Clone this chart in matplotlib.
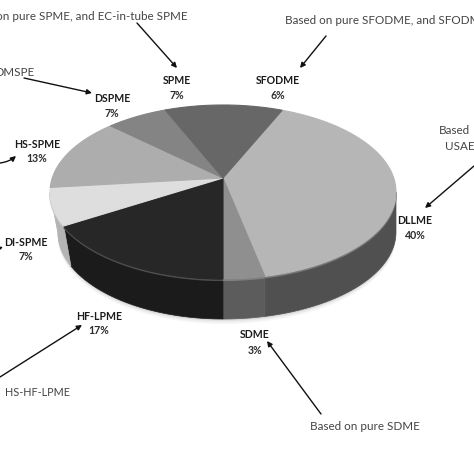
import numpy as np
import matplotlib
matplotlib.use("Agg")
import matplotlib.pyplot as plt
from matplotlib.colors import to_rgb

plt.rcParams['font.family'] = ['Lato', 'DejaVu Sans']

# Slices clockwise from the SFODME/DLLME boundary
categories = ["DLLME", "SDME", "HF-LPME", "DI-SPME", "HS-SPME", "DSPME", "SPME", "SFODME"]
percent_labels = [40, 3, 17, 7, 13, 7, 7, 6]
# apparent slice sizes on the tilted disc, in degrees
apparent_degrees = [146, 14, 67, 26, 46.5, 21, 21.3, 18.2]
top_colors = ["#b6b6b6", "#8f8f8f", "#272727", "#dedede", "#adadad", "#848484", "#676767", "#676767"]
wall_colors = ["#505050", "#5c5c5c", "#1b1b1b", "#b4b4b4", "#777777", "#555555", "#444444", "#444444"]

label_x = [415, 255, 99, 26, 37, 112, 176.5, 278]
label_y = [220, 335, 316, 242, 144, 98, 80, 80]

note_texts = ["Based on pure SPME, and EC-in-tube SPME", "Based on pure SFODME, and SFODME",
              "OMSPE", "Based", "USAE", "HS-HF-LPME", "Based on pure SDME"]
note_x = [188, 285, 35, 439, 445, 5, 310]
note_y = [16, 20, 72, 130, 147, 393, 427]
note_ha = ["right", "left", "right", "left", "left", "left", "left"]
note_size = [8.4, 8.4, 8.4, 8.4, 8.4, 7.8, 8.4]

arrow_tails = [(137, 23), (326, 36), (24, 78), (0, 163), (-6, 250), (0, 377), (321, 414), (474, 166)]
arrow_heads = [(177, 68), (300, 68), (92, 93), (16, 156), (3, 247), (82, 325), (267, 341), (425, 208)]

cx, cy, rx, ry = 223, 192, 173, 87
apex = (223, 178)
depth = 40
start_angle = 70


def rim(a):
    a = np.radians(a)
    return cx + rx * np.cos(a), cy - ry * np.sin(a)


def lower(a, extra=0.0):
    # lower edge of the wall; it tapers in on the left as in the picture
    x, y = rim(a)
    x = np.where(x < cx, cx + (x - cx) * 0.955, x)
    return x, y + depth + extra


fig = plt.figure(figsize=(4.74, 4.74), dpi=100)
ax = fig.add_axes([0, 0, 1, 1])
ax.set_xlim(0, 474)
ax.set_ylim(474, 0)
ax.axis("off")

# soft shadow under the disc
sa = np.linspace(-180, 0, 240)
for grow, alpha in zip([5, 3.5, 2, 1], [0.03, 0.04, 0.05, 0.06]):
    tx, ty = rim(sa)
    bx, by = lower(sa, grow)
    ax.fill(np.r_[tx, bx[::-1]], np.r_[ty, by[::-1]], color="k", alpha=alpha, lw=0, zorder=1)

edges = start_angle - np.concatenate([[0], np.cumsum(apparent_degrees)])

# side walls
for i in range(len(categories)):
    lo, hi = edges[i + 1], edges[i]
    for k in (0, -360):
        l2, h2 = max(lo, -180 + k), min(hi, 0 + k)
        if l2 < h2:
            a = np.linspace(l2, h2, 80)
            x, y = rim(a)
            bx, by = lower(a)
            ax.fill(np.r_[x, bx[::-1]], np.r_[y, by[::-1]], color=wall_colors[i], lw=0.5, zorder=2)
            base = np.array(to_rgb(wall_colors[i]))
            ax.plot(x, y + 1.2, color=tuple(base + (1 - base) * 0.22), lw=1.3, zorder=3,
                    solid_capstyle="butt")

# top surface
for i in range(len(categories)):
    a = np.linspace(edges[i], edges[i + 1], 120)
    x, y = rim(a)
    ax.fill(np.r_[apex[0], x], np.r_[apex[1], y], color=top_colors[i], lw=0.8, zorder=4)

# category labels
for name, pct, x, y in zip(categories, percent_labels, label_x, label_y):
    ax.text(x, y, name, ha="center", va="center", fontsize=7.6, fontweight="bold", color="#1c1c1c", zorder=6)
    ax.text(x, y + 15, f"{pct}%", ha="center", va="center", fontsize=7.6, fontweight="bold", color="#2c2c2c", zorder=6)

# notes
for t, x, y, ha, fs in zip(note_texts, note_x, note_y, note_ha, note_size):
    ax.text(x, y, t, ha=ha, va="center", fontsize=fs, color="#444444", zorder=6)

# arrows
for i, (tail, head) in enumerate(zip(arrow_tails, arrow_heads)):
    style = "arc3,rad=0.15" if i == 3 else "arc3"
    ax.annotate("", xy=head, xytext=tail, xycoords="data", textcoords="data",
                arrowprops=dict(arrowstyle="-|>,head_length=0.3,head_width=0.15", color="#111111",
                                lw=1.0, shrinkA=0, shrinkB=0, connectionstyle=style), zorder=6)

fig.savefig("out.png", dpi=100, facecolor="white")
